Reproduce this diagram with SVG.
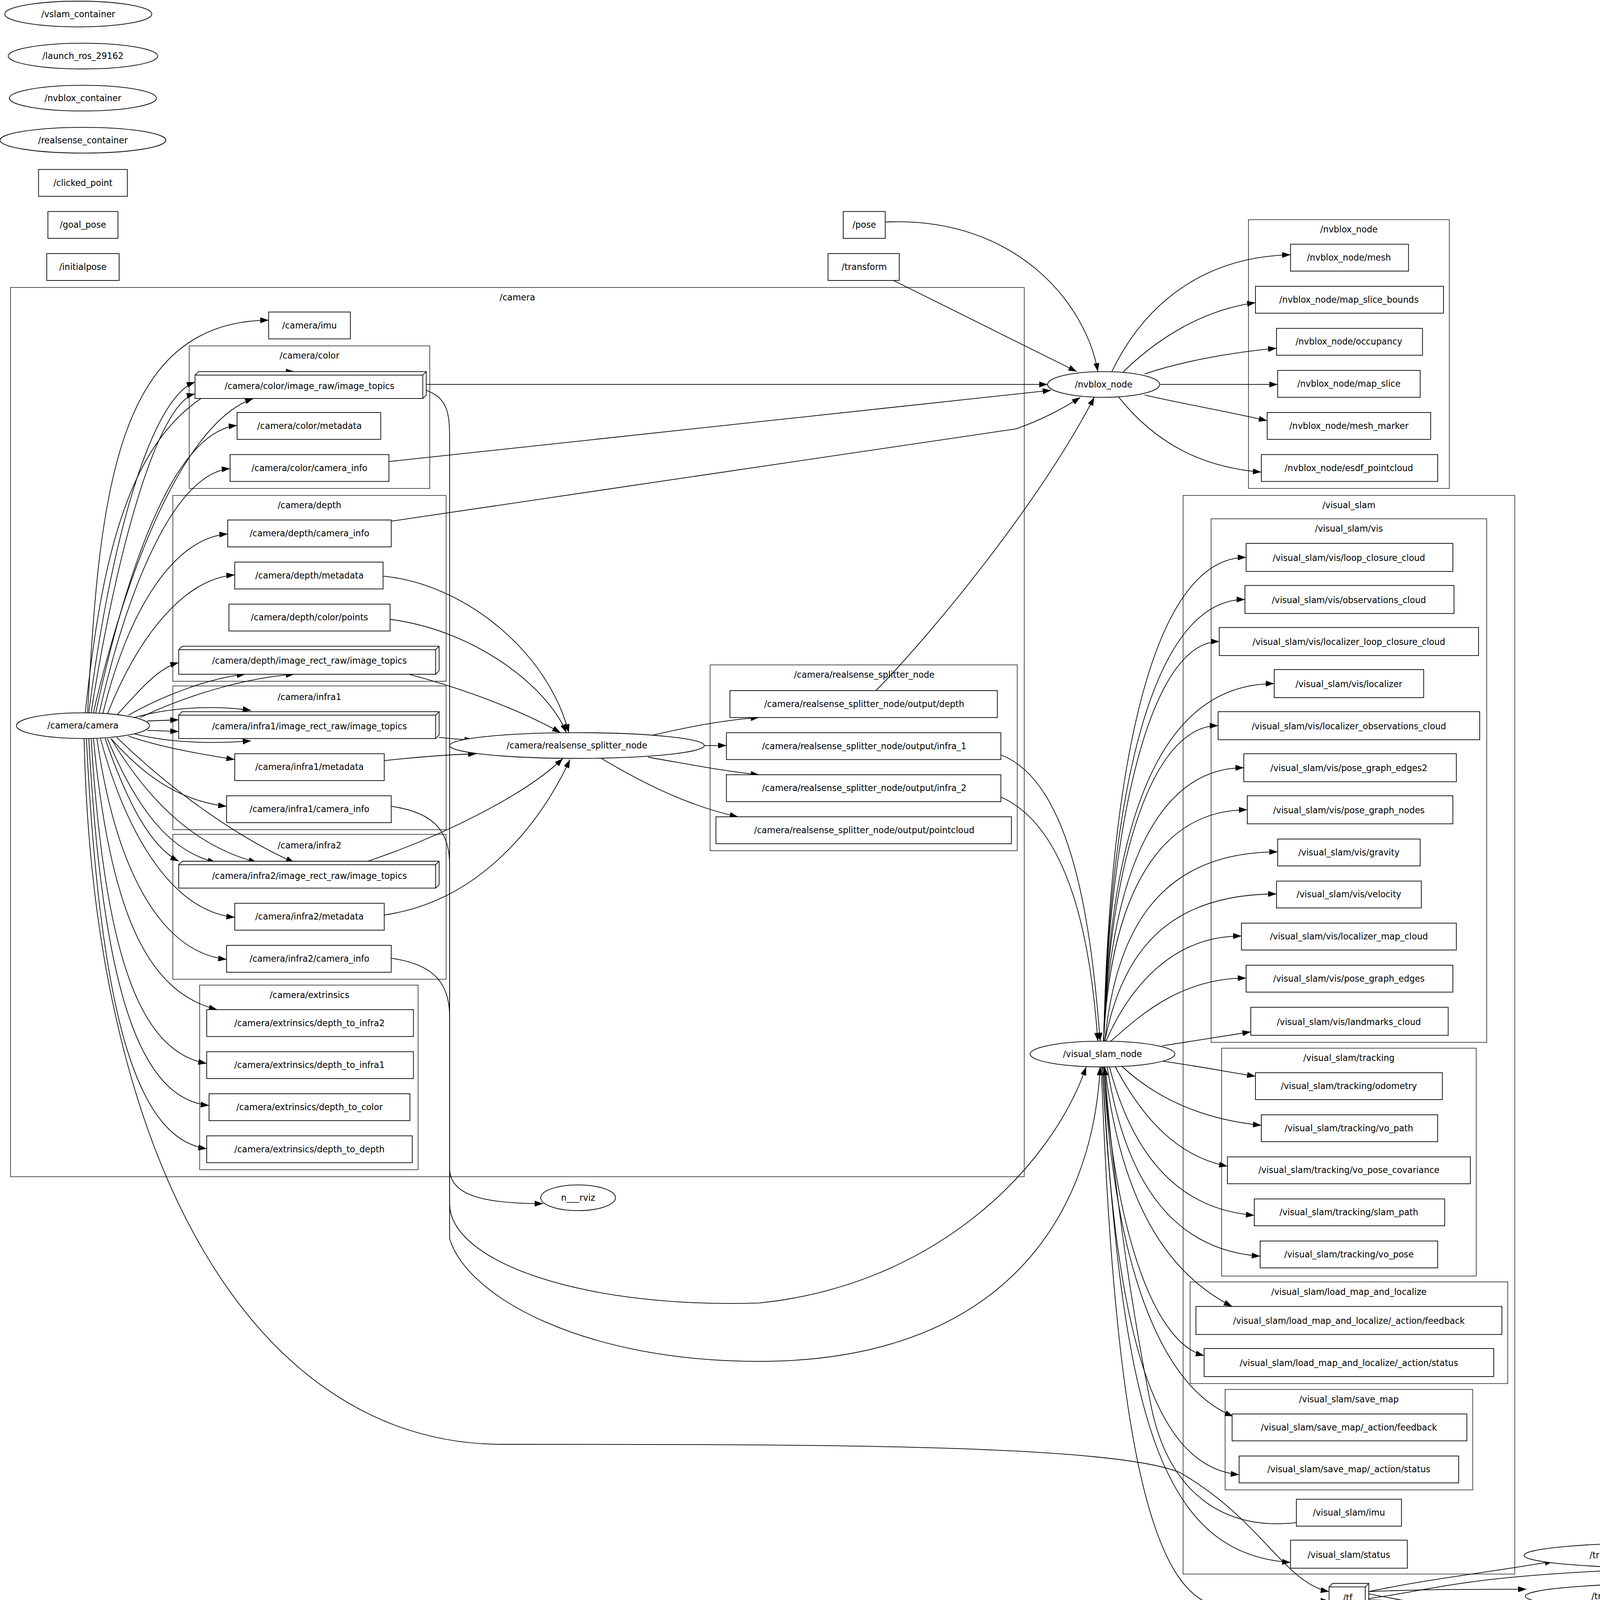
<svg xmlns="http://www.w3.org/2000/svg" width="4688" height="4230" viewBox="0 0 4688 4230">
<style>
text{font-family:"DejaVu Sans","Liberation Sans",sans-serif;font-size:7.4px;text-anchor:middle;fill:#000}
.n rect,.n ellipse,.n path{fill:#fff;stroke:#000;stroke-width:0.6}
.c rect{fill:none;stroke:#000;stroke-width:0.45}
.e path{fill:none;stroke:#000;stroke-width:0.6;marker-end:url(#a)}
</style>
<defs><marker id="a" viewBox="0 0 10 7" refX="10" refY="3.5" markerUnits="userSpaceOnUse" markerWidth="9" markerHeight="5" orient="auto"><path d="M0,0L10,3.5L0,7z" fill="#000"/></marker></defs>
<rect width="4688" height="4230" fill="#fff"/>
<g transform="scale(2.9898,2.9915)">
<g class="c">
<g id="cl_camera"><rect x="9" y="246" width="868" height="761"/><text x="443" y="257">/camera</text></g>
<g id="cl_color"><rect x="162" y="296" width="206" height="122"/><text x="265" y="307">/camera/color</text></g>
<g id="cl_depth"><rect x="148" y="424" width="234" height="159"/><text x="265" y="435">/camera/depth</text></g>
<g id="cl_infra1"><rect x="148" y="587" width="234" height="123"/><text x="265" y="599">/camera/infra1</text></g>
<g id="cl_infra2"><rect x="148" y="714" width="234" height="124"/><text x="265" y="726">/camera/infra2</text></g>
<g id="cl_extr"><rect x="171" y="843" width="187" height="158"/><text x="265" y="854">/camera/extrinsics</text></g>
<g id="cl_split"><rect x="608" y="569" width="263" height="159"/><text x="740" y="580">/camera/realsense_splitter_node</text></g>
<g id="cl_nvblox"><rect x="1069" y="188" width="172" height="230"/><text x="1155" y="199">/nvblox_node</text></g>
<g id="cl_vslam"><rect x="1013" y="424" width="284" height="923"/><text x="1155" y="435">/visual_slam</text></g>
<g id="cl_vis"><rect x="1037" y="444" width="236" height="448"/><text x="1155" y="455">/visual_slam/vis</text></g>
<g id="cl_track"><rect x="1046" y="897" width="218" height="195"/><text x="1155" y="908">/visual_slam/tracking</text></g>
<g id="cl_load"><rect x="1019" y="1097" width="272" height="87"/><text x="1155" y="1108">/visual_slam/load_map_and_localize</text></g>
<g id="cl_save"><rect x="1049" y="1189" width="212" height="86"/><text x="1155" y="1200">/visual_slam/save_map</text></g>
</g>
<g class="e" id="edges">
<path d="M75,610C85,420 100,275 230,274"/>
<path d="M73,610C90,450 120,320 252,318"/>
<path d="M76,610C95,460 130,340 167,327"/>
<path d="M78,610C100,470 135,345 167,337"/>
<path d="M80,610C110,480 160,360 217,341"/>
<path d="M82,610C110,480 150,370 203,364"/>
<path d="M85,610C110,500 150,405 197,401"/>
<path d="M88,611C110,520 150,460 195,457"/>
<path d="M92,611C120,540 160,495 201,492"/>
<path d="M100,612C120,590 135,572 153,567"/>
<path d="M110,612C140,595 180,580 210,577"/>
<path d="M120,614C160,595 210,580 252,577"/>
<path d="M115,614C150,604 190,604 215,608"/>
<path d="M126,617L153,616"/>
<path d="M126,625L153,626"/>
<path d="M115,628C150,637 190,636 215,634"/>
<path d="M110,630C140,640 170,645 201,650"/>
<path d="M95,632C120,660 150,685 194,690"/>
<path d="M90,632C110,690 130,725 153,737"/>
<path d="M92,632C120,700 150,730 185,738"/>
<path d="M95,632C130,690 170,725 220,738"/>
<path d="M100,631C150,680 210,720 252,738"/>
<path d="M86,632C110,720 150,780 201,785"/>
<path d="M83,632C100,750 140,815 194,821"/>
<path d="M80,632C95,790 130,850 186,864"/>
<path d="M78,632C90,820 120,900 177,910"/>
<path d="M76,632C88,850 120,940 179,946"/>
<path d="M74,632C86,880 120,975 177,983"/>
<path d="M72,632C80,1000 220,1236 430,1236C700,1236 950,1236 1010,1260C1080,1300 1100,1355 1138,1362"/>
<path d="M328,493C400,500 470,560 487,627"/>
<path d="M334,530C410,540 470,590 485,627"/>
<path d="M350,577C400,590 450,610 480,627"/>
<path d="M376,631C385,632 395,633 405,633"/>
<path d="M329,651C355,648 380,646 408,645"/>
<path d="M315,737C380,715 450,680 482,649"/>
<path d="M329,783C420,770 470,690 488,650"/>
<path d="M555,630C590,622 620,616 650,614"/>
<path d="M603,638L622,638"/>
<path d="M555,648C590,654 620,660 650,663"/>
<path d="M515,649C550,670 590,690 632,699"/>
<path d="M750,591C800,540 890,430 937,340"/>
<path d="M857,646C920,670 935,800 942,891"/>
<path d="M857,682C920,710 935,820 940,891"/>
<path d="M362,329L897,329"/>
<path d="M333,395L900,334"/>
<path d="M335,446L870,367C890,360 910,350 925,340"/>
<path d="M758,190C870,185 930,260 940,318"/>
<path d="M765,240L922,318"/>
<path d="M952,318C980,260 1030,220 1105,218"/>
<path d="M960,320C990,290 1030,265 1075,259"/>
<path d="M980,320C1010,310 1050,302 1093,298"/>
<path d="M993,329L1094,329"/>
<path d="M980,338C1010,345 1050,352 1085,360"/>
<path d="M958,340C990,380 1030,400 1080,404"/>
<path d="M362,333C385,340 385,355 385,380L385,1000C385,1025 420,1030 465,1030"/>
<path d="M335,690C370,695 385,710 385,740L385,1030C385,1080 500,1120 650,1115C800,1100 900,1000 930,913"/>
<path d="M335,820C370,825 385,840 385,870L385,1060C400,1110 500,1165 650,1165C850,1165 935,1050 942,913"/>
<path d="M945,891C950,663 985,477 1067,477"/>
<path d="M945,891C950,683 985,513 1066,513"/>
<path d="M945,891C950,703 985,549 1044,549"/>
<path d="M945,891C950,723 985,585 1091,585"/>
<path d="M945,891C950,742 985,621 1043,621"/>
<path d="M945,891C950,762 985,657 1065,657"/>
<path d="M945,891C950,780 985,693 1068,693"/>
<path d="M946,891C955,800 990,729 1094,729"/>
<path d="M946,891C960,820 995,765 1093,765"/>
<path d="M947,891C965,850 1000,801 1063,801"/>
<path d="M950,892C975,870 1010,837 1067,837"/>
<path d="M995,895L1071,883"/>
<path d="M995,908C1030,913 1055,918 1075,921"/>
<path d="M960,912C990,940 1030,958 1080,963"/>
<path d="M955,913C980,960 1010,990 1051,998"/>
<path d="M950,913C970,990 1010,1035 1074,1040"/>
<path d="M948,913C965,1020 1010,1070 1079,1075"/>
<path d="M946,913C960,1030 1000,1090 1055,1118"/>
<path d="M945,913C955,1060 990,1150 1031,1160"/>
<path d="M945,913C955,1100 1000,1190 1056,1212"/>
<path d="M944,913C955,1150 990,1255 1061,1262"/>
<path d="M1110,1303C1050,1310 1000,1280 985,1200C965,1100 950,980 946,913"/>
<path d="M944,913C960,1200 990,1330 1105,1337"/>
<path d="M943,913C955,1250 990,1375 1050,1375C1090,1375 1110,1370 1138,1370"/>
<path d="M1172,1362C1230,1350 1280,1345 1330,1336"/>
<path d="M1172,1368C1230,1360 1250,1350 1380,1344"/>
<path d="M1172,1362C1220,1360 1260,1360 1307,1360"/>
<path d="M1172,1369C1220,1371 1260,1372 1307,1372"/>
<path d="M1172,1364C1230,1375 1280,1385 1390,1393"/>
<path d="M1172,1372C1230,1385 1300,1393 1340,1395"/>
</g>
<g class="n">
<g id="vslam_container"><ellipse cx="67" cy="12" rx="63" ry="11"/><text x="67" y="14.6">/vslam_container</text></g>
<g id="launch_ros"><ellipse cx="71" cy="48" rx="64" ry="11"/><text x="71" y="50.6">/launch_ros_29162</text></g>
<g id="nvblox_container"><ellipse cx="71" cy="84" rx="63" ry="11"/><text x="71" y="86.6">/nvblox_container</text></g>
<g id="realsense_container"><ellipse cx="71" cy="120" rx="71" ry="11"/><text x="71" y="122.6">/realsense_container</text></g>
<g id="clicked_point"><rect x="33" y="145" width="76" height="23"/><text x="71" y="159">/clicked_point</text></g>
<g id="goal_pose"><rect x="41" y="181" width="60" height="23"/><text x="71" y="195">/goal_pose</text></g>
<g id="initialpose"><rect x="40" y="217" width="62" height="23"/><text x="71" y="231">/initialpose</text></g>
<g id="pose"><rect x="722" y="181" width="36" height="23"/><text x="740" y="195">/pose</text></g>
<g id="transform"><rect x="709" y="217" width="61" height="23"/><text x="740" y="231">/transform</text></g>
<g id="camera_imu"><rect x="230" y="267" width="70" height="23"/><text x="265" y="281">/camera/imu</text></g>
<g id="color_img"><path d="M167,321L170,318L365,318L365,338L362,341"/><path d="M362,321L365,318"/><rect x="167" y="321" width="195" height="20"/><text x="265" y="333">/camera/color/image_raw/image_topics</text></g>
<g id="color_meta"><rect x="203" y="353" width="123" height="23"/><text x="265" y="367">/camera/color/metadata</text></g>
<g id="color_info"><rect x="197" y="389" width="136" height="23"/><text x="265" y="403">/camera/color/camera_info</text></g>
<g id="depth_info"><rect x="195" y="445" width="140" height="23"/><text x="265" y="459">/camera/depth/camera_info</text></g>
<g id="depth_meta"><rect x="201" y="481" width="127" height="23"/><text x="265" y="495">/camera/depth/metadata</text></g>
<g id="depth_points"><rect x="196" y="517" width="138" height="23"/><text x="265" y="531">/camera/depth/color/points</text></g>
<g id="depth_img"><path d="M153,556L156,553L376,553L376,574L373,577"/><path d="M373,556L376,553"/><rect x="153" y="556" width="220" height="21"/><text x="265" y="568">/camera/depth/image_rect_raw/image_topics</text></g>
<g id="infra1_img"><path d="M153,612L156,609L376,609L376,629L373,632"/><path d="M373,612L376,609"/><rect x="153" y="612" width="220" height="20"/><text x="265" y="624">/camera/infra1/image_rect_raw/image_topics</text></g>
<g id="infra1_meta"><rect x="201" y="645" width="128" height="23"/><text x="265" y="659">/camera/infra1/metadata</text></g>
<g id="infra1_info"><rect x="194" y="681" width="141" height="23"/><text x="265" y="695">/camera/infra1/camera_info</text></g>
<g id="infra2_img"><path d="M153,740L156,737L376,737L376,757L373,760"/><path d="M373,740L376,737"/><rect x="153" y="740" width="220" height="20"/><text x="265" y="752">/camera/infra2/image_rect_raw/image_topics</text></g>
<g id="infra2_meta"><rect x="201" y="773" width="128" height="23"/><text x="265" y="787">/camera/infra2/metadata</text></g>
<g id="infra2_info"><rect x="194" y="809" width="141" height="23"/><text x="265" y="823">/camera/infra2/camera_info</text></g>
<g id="ex_i2"><rect x="177" y="864" width="177" height="23"/><text x="265" y="878">/camera/extrinsics/depth_to_infra2</text></g>
<g id="ex_i1"><rect x="177" y="900" width="177" height="23"/><text x="265" y="914">/camera/extrinsics/depth_to_infra1</text></g>
<g id="ex_c"><rect x="179" y="936" width="172" height="23"/><text x="265" y="950">/camera/extrinsics/depth_to_color</text></g>
<g id="ex_d"><rect x="177" y="972" width="176" height="23"/><text x="265" y="986">/camera/extrinsics/depth_to_depth</text></g>
<g id="camera_camera"><ellipse cx="71" cy="621" rx="57" ry="11"/><text x="71" y="623.6">/camera/camera</text></g>
<g id="splitter"><ellipse cx="494" cy="638" rx="109" ry="11"/><text x="494" y="640.6">/camera/realsense_splitter_node</text></g>
<g id="out_depth"><rect x="625" y="591" width="229" height="23"/><text x="740" y="605">/camera/realsense_splitter_node/output/depth</text></g>
<g id="out_i1"><rect x="622" y="627" width="235" height="23"/><text x="740" y="641">/camera/realsense_splitter_node/output/infra_1</text></g>
<g id="out_i2"><rect x="622" y="663" width="235" height="23"/><text x="740" y="677">/camera/realsense_splitter_node/output/infra_2</text></g>
<g id="out_pc"><rect x="613" y="699" width="253" height="23"/><text x="740" y="713">/camera/realsense_splitter_node/output/pointcloud</text></g>
<g id="rviz"><ellipse cx="495" cy="1025" rx="32" ry="11"/><text x="495" y="1027.6">n___rviz</text></g>
<g id="nvblox_node"><ellipse cx="945" cy="329" rx="48" ry="11"/><text x="945" y="331.6">/nvblox_node</text></g>
<g id="nv_mesh"><rect x="1105" y="209" width="101" height="23"/><text x="1155" y="223">/nvblox_node/mesh</text></g>
<g id="nv_msb"><rect x="1075" y="245" width="161" height="23"/><text x="1155" y="259">/nvblox_node/map_slice_bounds</text></g>
<g id="nv_occ"><rect x="1093" y="281" width="125" height="23"/><text x="1155" y="295">/nvblox_node/occupancy</text></g>
<g id="nv_ms"><rect x="1094" y="317" width="122" height="23"/><text x="1155" y="331">/nvblox_node/map_slice</text></g>
<g id="nv_mm"><rect x="1085" y="353" width="140" height="23"/><text x="1155" y="367">/nvblox_node/mesh_marker</text></g>
<g id="nv_esdf"><rect x="1080" y="389" width="151" height="23"/><text x="1155" y="403">/nvblox_node/esdf_pointcloud</text></g>
<g id="v1"><rect x="1067" y="465" width="177" height="24"/><text x="1155" y="480">/visual_slam/vis/loop_closure_cloud</text></g>
<g id="v2"><rect x="1066" y="501" width="179" height="24"/><text x="1155" y="516">/visual_slam/vis/observations_cloud</text></g>
<g id="v3"><rect x="1044" y="537" width="222" height="24"/><text x="1155" y="552">/visual_slam/vis/localizer_loop_closure_cloud</text></g>
<g id="v4"><rect x="1091" y="573" width="128" height="24"/><text x="1155" y="588">/visual_slam/vis/localizer</text></g>
<g id="v5"><rect x="1043" y="609" width="224" height="24"/><text x="1155" y="624">/visual_slam/vis/localizer_observations_cloud</text></g>
<g id="v6"><rect x="1065" y="645" width="182" height="24"/><text x="1155" y="660">/visual_slam/vis/pose_graph_edges2</text></g>
<g id="v7"><rect x="1068" y="681" width="176" height="24"/><text x="1155" y="696">/visual_slam/vis/pose_graph_nodes</text></g>
<g id="v8"><rect x="1094" y="718" width="122" height="23"/><text x="1155" y="732">/visual_slam/vis/gravity</text></g>
<g id="v9"><rect x="1093" y="754" width="124" height="23"/><text x="1155" y="768">/visual_slam/vis/velocity</text></g>
<g id="v10"><rect x="1063" y="790" width="184" height="23"/><text x="1155" y="804">/visual_slam/vis/localizer_map_cloud</text></g>
<g id="v11"><rect x="1067" y="826" width="177" height="23"/><text x="1155" y="840">/visual_slam/vis/pose_graph_edges</text></g>
<g id="v12"><rect x="1071" y="862" width="169" height="24"/><text x="1155" y="877">/visual_slam/vis/landmarks_cloud</text></g>
<g id="vslam_node"><ellipse cx="944" cy="902" rx="62" ry="11"/><text x="944" y="904.6">/visual_slam_node</text></g>
<g id="t1"><rect x="1075" y="918" width="160" height="23"/><text x="1155" y="932">/visual_slam/tracking/odometry</text></g>
<g id="t2"><rect x="1080" y="954" width="151" height="23"/><text x="1155" y="968">/visual_slam/tracking/vo_path</text></g>
<g id="t3"><rect x="1051" y="990" width="208" height="23"/><text x="1155" y="1004">/visual_slam/tracking/vo_pose_covariance</text></g>
<g id="t4"><rect x="1074" y="1026" width="163" height="23"/><text x="1155" y="1040">/visual_slam/tracking/slam_path</text></g>
<g id="t5"><rect x="1079" y="1062" width="152" height="23"/><text x="1155" y="1076">/visual_slam/tracking/vo_pose</text></g>
<g id="l1"><rect x="1024" y="1118" width="262" height="24"/><text x="1155" y="1133">/visual_slam/load_map_and_localize/_action/feedback</text></g>
<g id="l2"><rect x="1031" y="1154" width="248" height="24"/><text x="1155" y="1169">/visual_slam/load_map_and_localize/_action/status</text></g>
<g id="s1"><rect x="1055" y="1210" width="201" height="23"/><text x="1155" y="1224">/visual_slam/save_map/_action/feedback</text></g>
<g id="s2"><rect x="1061" y="1246" width="188" height="23"/><text x="1155" y="1260">/visual_slam/save_map/_action/status</text></g>
<g id="vs_imu"><rect x="1110" y="1283" width="90" height="23"/><text x="1155" y="1297">/visual_slam/imu</text></g>
<g id="vs_status"><rect x="1105" y="1318" width="100" height="24"/><text x="1155" y="1333">/visual_slam/status</text></g>
<g id="tf"><path d="M1138,1358L1141,1355L1172,1355L1172,1375L1169,1378"/><path d="M1169,1358L1172,1355"/><rect x="1138" y="1358" width="31" height="20"/><text x="1154" y="1370">/tf</text></g>
<g id="tl1"><ellipse cx="1435" cy="1331" rx="130" ry="11"/><text x="1435" y="1333.6">/transform_listener_impl_55b634bb8f90</text></g>
<g id="tl2"><ellipse cx="1436" cy="1366" rx="130" ry="11"/><text x="1436" y="1368.6">/transform_listener_impl_561cb23a1cf0</text></g>
<g id="tl3"><ellipse cx="1436" cy="1402" rx="132" ry="11"/><text x="1436" y="1404.6">/transform_listener_impl_5629887c7430</text></g>
</g>
</g>
</svg>
